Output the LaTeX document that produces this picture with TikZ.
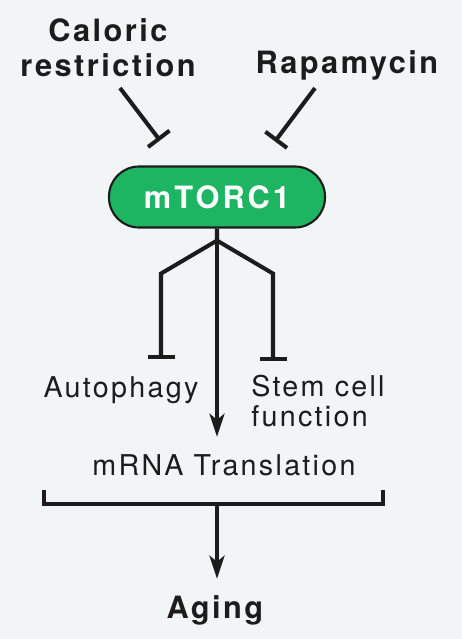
\documentclass[tikz,border=0pt]{standalone}
\usepackage{fontspec}
\setmainfont{TeX Gyre Heros}
\newfontfamily\helvtrack{TeX Gyre Heros}[LetterSpace=8]
\newfontfamily\helvwide{TeX Gyre Heros}[LetterSpace=10]
\usetikzlibrary{positioning, arrows.meta, calc}
\definecolor{bgpanel}{RGB}{241,245,245}
\definecolor{mtorgreen}{RGB}{29,181,98}
\definecolor{inkdark}{RGB}{28,28,28}
\tikzset{
  boldtxt/.style={inner sep=0pt, text=inkdark, font=\helvtrack\fontsize{17.5}{20}\selectfont\bfseries},
  plaintxt/.style={inner sep=0pt, text=inkdark, font=\helvtrack\fontsize{16.3}{17}\selectfont},
  pill/.style={rectangle, rounded corners=0.6cm, minimum width=4.32cm, minimum height=1.22cm, draw=inkdark, line width=1.2pt, fill=mtorgreen, text=white, font=\helvwide\fontsize{17.5}{19}\selectfont\bfseries},
  inhibit/.style={draw=inkdark, line width=2.3pt, -{Bar[width=0.54cm]}},
  arrow/.style={draw=inkdark, line width=2.3pt, -{Stealth[length=0.46cm, width=0.3cm, inset=0.12cm]}},
  bracket/.style={draw=inkdark, line width=2.3pt}
}

\begin{document}
\begin{tikzpicture}

    % 0. Fondo
    \fill[bgpanel] (0,0) rectangle (9.24,-12.78);
    \useasboundingbox (0,0) rectangle (9.24,-12.78);

    % 1. Inhibidores y mTORC1
    \node[boldtxt, align=center, anchor=south] (calres) at (2.16,-1.54) {Caloric\\restriction};
    \node[boldtxt, anchor=base] (rapa) at (6.94,-1.46) {Rapamycin};
    \node[pill] (mtor) at (4.34,-3.94) {mTORC1};

    \coordinate (calend) at ($(mtor.north)+(-1.14,0.5)$);
    \coordinate (rapaend) at ($(mtor.north)+(1.16,0.48)$);
    \draw[inhibit] ($(calres.south)+(0.24,-0.22)$) -- (calend);
    \draw[inhibit] ($(rapa.south)+(-0.64,-0.16)$) -- (rapaend);

    % 2. Ramas hacia abajo
    \coordinate (apex) at ($(mtor.south)+(0,-0.24)$);
    \coordinate (lknee) at ($(apex)+(-1.12,-0.66)$);
    \coordinate (rknee) at ($(apex)+(1.12,-0.66)$);
    \coordinate (autoend) at ($(lknee)+(0,-1.7)$);
    \coordinate (stemend) at ($(rknee)+(0,-1.74)$);

    \node[plaintxt, anchor=base] (auto) at (2.42,-7.94) {Autophagy};
    \node[plaintxt, align=left, anchor=south west] (stem) at (5.02,-8.54) {Stem cell\\function};
    \node[plaintxt, anchor=base] (mrna) at (4.48,-9.5) {mRNA Translation};

    \draw[inhibit] (mtor.south) -- (apex) -- (lknee) -- (autoend);
    \draw[inhibit] (apex) -- (rknee) -- (stemend);
    \draw[arrow, shorten >=0.34cm] (mtor.south) -- (mtor.south |- mrna.north);

    % 3. Corchete y envejecimiento
    \coordinate (brl) at (0.88,-10.08);
    \coordinate (brr) at (7.66,-10.08);
    \coordinate (brmid) at (brl -| mtor.south);
    \draw[bracket] ($(brl)+(0,0.28)$) -- (brl) -- (brr) -- ++(0,0.28);

    \node[boldtxt, anchor=base] (aging) at (4.3,-12.36) {Aging};
    \draw[arrow, shorten >=0.32cm] (brmid) -- (brmid |- aging.north);

\end{tikzpicture}
\end{document}
